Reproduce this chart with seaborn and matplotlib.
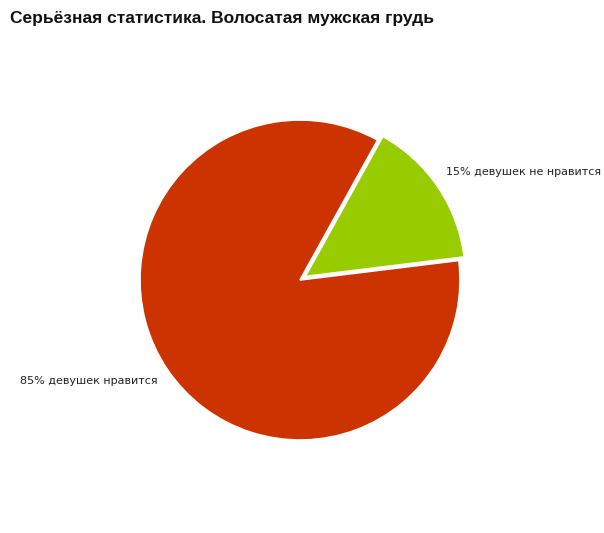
import matplotlib
matplotlib.use("Agg")
import matplotlib.pyplot as plt
import seaborn as sns

sns.set_theme(style="white")
plt.rcParams['font.family'] = ['DejaVu Sans']

labels = ['15% девушек не нравится', '85% девушек нравится']
values = [15, 85]
colors = ['#99CC00', '#CC3300']
title = 'Серьёзная статистика. Волосатая мужская грудь'

fig = plt.figure(figsize=(6.04, 5.33), dpi=100)
ax = fig.add_axes([108 / 604, 61 / 533, 384 / 604, 384 / 533])

ax.pie(values, colors=colors, startangle=7, counterclock=True,
       explode=[0.04, 0], radius=1,
       wedgeprops=dict(edgecolor='white', linewidth=1.2))
ax.set_xlim(-1.2, 1.2)
ax.set_ylim(-1.2, 1.2)
ax.set_aspect('equal')
ax.axis('off')

fig.text(10 / 604, 1 - 19 / 533, title, family=['Liberation Sans', 'DejaVu Sans'],
         fontsize=12.5, fontweight='bold', color='#111111', va='center', ha='left')
fig.text(446 / 604, 1 - 172 / 533, labels[0], fontsize=8, color='#222222',
         va='center', ha='left')
fig.text(20 / 604, 1 - 381 / 533, labels[1], fontsize=8, color='#222222',
         va='center', ha='left')

fig.savefig('out.png', dpi=100)
